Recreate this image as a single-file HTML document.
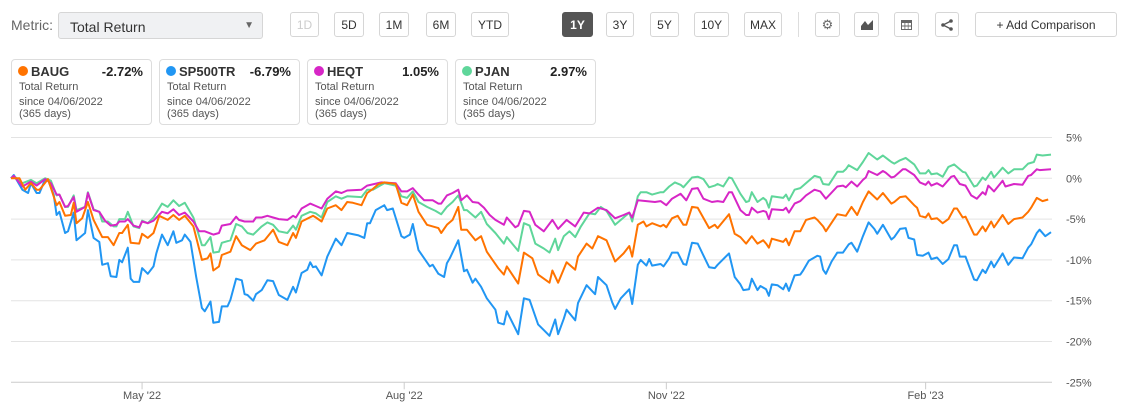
<!DOCTYPE html>
<html><head><meta charset="utf-8">
<style>
*{box-sizing:border-box;margin:0;padding:0}
body{width:1125px;height:412px;background:#fff;font-family:"Liberation Sans",sans-serif;color:#333;position:relative;overflow:hidden}
.abs{position:absolute}
.btn{position:absolute;top:12px;height:25px;border:1px solid #d6d6d6;border-radius:3px;background:#fff;font-size:12px;color:#333;display:flex;align-items:center;justify-content:center}
.card{position:absolute;top:59px;width:141px;height:66px;border:1px solid #ddd;border-radius:4px;font-size:11px;color:#555}
.card .dot{position:absolute;left:6px;top:6px;width:10px;height:10px;border-radius:50%}
.card .tk{position:absolute;left:19px;top:4px;font-weight:bold;font-size:13px;color:#333}
.card .pc{position:absolute;right:8px;top:4px;font-weight:bold;font-size:13px;color:#222}
.card .l1{position:absolute;left:7px;top:21px}
.card .l2{position:absolute;left:7px;top:36px}
.card .l3{position:absolute;left:7px;top:48px}
</style></head><body>
<div class="abs" style="left:11px;top:17px;font-size:14px;color:#666">Metric:</div>
<div class="abs" style="left:58px;top:12px;width:205px;height:27px;background:#f0f1f3;border:1px solid #d6d6d6;border-radius:3px;font-size:14px;padding:6px 0 0 11px;color:#333">Total Return<span style="position:absolute;right:8px;top:7px;font-size:10px;color:#666">▼</span></div>
<div class="btn" style="left:290px;width:29px;color:#ccc">1D</div>
<div class="btn" style="left:334px;width:30px">5D</div>
<div class="btn" style="left:379px;width:30px">1M</div>
<div class="btn" style="left:426px;width:30px">6M</div>
<div class="btn" style="left:471px;width:38px">YTD</div>
<div class="btn" style="left:562px;width:31px;background:#555;border-color:#555;color:#fff;font-weight:bold">1Y</div>
<div class="btn" style="left:606px;width:28px">3Y</div>
<div class="btn" style="left:650px;width:29px">5Y</div>
<div class="btn" style="left:694px;width:35px">10Y</div>
<div class="btn" style="left:744px;width:38px">MAX</div>
<div class="abs" style="left:798px;top:12px;width:1px;height:25px;background:#ddd"></div>
<div class="btn" style="left:815px;width:25px;font-size:13px;color:#666">⚙</div>
<div class="btn" style="left:854px;width:25px"><svg width="12" height="10"><path d="M0 10 L0 6 L4 1 L7 5 L12 0 L12 10Z" fill="#555"/></svg></div>
<div class="btn" style="left:894px;width:25px"><svg width="11" height="10"><rect x="0" y="0" width="11" height="10" fill="#666"/><g fill="#fff"><rect x="1" y="3" width="2.5" height="2.5"/><rect x="4.3" y="3" width="2.5" height="2.5"/><rect x="7.5" y="3" width="2.5" height="2.5"/><rect x="1" y="6.5" width="2.5" height="2.5"/><rect x="4.3" y="6.5" width="2.5" height="2.5"/><rect x="7.5" y="6.5" width="2.5" height="2.5"/></g></svg></div>
<div class="btn" style="left:935px;width:24px"><svg width="12" height="12"><path d="M10 2 L2 6 L10 10" stroke="#555" stroke-width="1.3" fill="none"/><circle cx="10" cy="2" r="1.8" fill="#555"/><circle cx="2" cy="6" r="1.8" fill="#555"/><circle cx="10" cy="10" r="1.8" fill="#555"/></svg></div>
<div class="btn" style="left:975px;width:142px">+ Add Comparison</div>

<div class="card" style="left:11px"><span class="dot" style="background:#ff7300"></span><span class="tk">BAUG</span><span class="pc">-2.72%</span><span class="l1">Total Return</span><span class="l2">since 04/06/2022</span><span class="l3">(365 days)</span></div>
<div class="card" style="left:159px"><span class="dot" style="background:#2196f3"></span><span class="tk">SP500TR</span><span class="pc">-6.79%</span><span class="l1">Total Return</span><span class="l2">since 04/06/2022</span><span class="l3">(365 days)</span></div>
<div class="card" style="left:307px"><span class="dot" style="background:#d726c6"></span><span class="tk">HEQT</span><span class="pc">1.05%</span><span class="l1">Total Return</span><span class="l2">since 04/06/2022</span><span class="l3">(365 days)</span></div>
<div class="card" style="left:455px"><span class="dot" style="background:#5fd69a"></span><span class="tk">PJAN</span><span class="pc">2.97%</span><span class="l1">Total Return</span><span class="l2">since 04/06/2022</span><span class="l3">(365 days)</span></div>

<svg id="chart" class="abs" style="left:0;top:0" width="1125" height="412"></svg>
<script>
const yTicks=[5,0,-5,-10,-15,-20,-25];
const xTickDays=[46,138,230,321];
const xTickLabels=["May '22","Aug '22","Nov '22","Feb '23"];
const baugDays=[0,3,5,7,9,10,13,16,17,19,21,22,23,25,27,29,32,34,36,38,39,41,42,45,46,48,50,52,55,57,59,61,64,67,69,70,71,73,74,77,79,81,84,86,89,92,94,97,99,100,102,106,107,109,111,114,116,118,120,123,125,127,129,131,135,137,139,141,143,146,150,151,153,155,157,158,160,163,165,167,171,173,174,178,180,183,185,189,190,192,195,198,199,202,204,206,209,212,215,217,218,220,222,223,225,228,229,230,232,234,236,237,239,241,245,247,248,252,254,256,258,260,262,264,265,266,267,271,272,273,275,277,279,282,283,285,286,290,293,295,297,299,301,304,306,309,310,312,314,317,318,319,321,322,323,325,327,329,331,332,334,335,338,339,341,342,344,345,348,350,352,355,357,358,360,362,364,365];
const baugVals=[0,0,-1.4,-0.6,-1.4,-1.4,-0.1,-3.3,-2.9,-4.6,-4.5,-3.0,-5.5,-4.9,-2.9,-5.1,-7.2,-7.2,-8.2,-6.7,-6.7,-5.7,-7.9,-8.0,-6.8,-7.3,-6.7,-4.6,-5.1,-4.5,-5.1,-4.6,-5.9,-10,-9.8,-9.2,-11.3,-10.8,-9.4,-9.0,-7.1,-8.2,-8.8,-8.0,-7.6,-6.3,-7.8,-8.2,-6.7,-7.3,-5.3,-4.6,-4.8,-5.3,-3.7,-3.3,-3.9,-2.9,-3.0,-3.3,-1.8,-1.3,-0.7,-0.5,-0.7,-3.0,-3.3,-2.0,-4.1,-5.7,-6.1,-6.7,-5.7,-5.1,-3.5,-6.3,-6.3,-7.6,-7.1,-9.0,-11.0,-11.8,-10.8,-12.9,-9.1,-9.8,-11.8,-12.8,-11.3,-12.8,-10.3,-11.2,-9.6,-8.0,-8.6,-7.1,-7.6,-10.2,-9.2,-8.3,-9.6,-5.7,-5.3,-5.9,-5.5,-5.9,-5.7,-6.0,-4.9,-4.6,-5.7,-5.7,-3.5,-3.6,-6.1,-5.7,-6.1,-4.4,-6.8,-7.2,-8.0,-7.1,-8.0,-7.6,-8.0,-8.5,-7.4,-7.8,-7.4,-8.2,-6.5,-6.5,-5.1,-4.8,-5.1,-5.9,-6.5,-4.4,-4.6,-3.5,-4.5,-2.9,-1.6,-2.6,-1.8,-3.1,-2.9,-2.3,-2.2,-3.3,-3.6,-4.6,-4.8,-4.3,-5.0,-4.9,-5.5,-5.0,-3.7,-3.7,-4.8,-4.7,-6.9,-6.9,-5.9,-6.5,-5.3,-6.0,-4.5,-5.6,-5.0,-4.8,-4.1,-3.6,-2.4,-2.8,-2.6];
const spDays=[0,1,4,6,7,9,10,12,13,15,16,17,19,20,22,23,26,27,29,31,32,34,35,37,38,39,41,42,43,45,46,48,50,51,53,55,57,58,60,61,63,65,67,68,70,71,73,74,76,77,79,81,82,83,85,86,88,90,92,94,97,99,100,102,104,105,106,107,109,111,114,116,118,122,124,125,126,128,130,131,132,134,137,138,140,141,143,145,147,148,150,152,153,154,157,159,160,162,163,165,167,170,171,173,174,178,180,182,185,187,189,191,192,194,195,198,199,202,205,206,209,211,212,214,217,218,220,221,223,224,225,228,229,231,232,234,236,237,239,241,245,247,248,252,254,256,257,259,260,262,263,265,266,267,269,271,272,273,275,277,278,280,283,284,285,286,288,290,292,294,295,297,299,301,303,304,306,309,310,312,314,315,317,318,320,322,323,325,327,329,331,332,333,335,338,339,341,342,344,345,348,350,352,355,357,358,360,361,363,365];
const spVals=[0,0.4,-1.4,-1.8,-0.6,-1.8,-1.8,-0.1,-0.2,-2.0,-4.5,-4.1,-6.7,-6.5,-4.2,-7.6,-6.7,-3.9,-7.3,-7.8,-10.6,-10.4,-12.0,-12.1,-10,-10.3,-8.5,-12.3,-12.7,-12.7,-11.0,-11.7,-10.8,-9.2,-6.9,-8.2,-6.5,-7.9,-7.6,-6.9,-7.8,-12.1,-15.9,-16.3,-15.1,-17.7,-17.6,-15.7,-15.7,-14.9,-12.3,-12.5,-14.2,-14.3,-15.0,-14.2,-13.7,-12.5,-12.6,-14.3,-14.9,-13.3,-14.0,-11.6,-11.2,-10.3,-10.9,-10.8,-11.9,-9.6,-7.4,-8.2,-6.7,-7.0,-7.3,-5.5,-5.5,-3.9,-3.5,-3.3,-3.9,-3.7,-7.1,-7.3,-6.9,-5.6,-8.8,-9.8,-10.8,-10.6,-11.7,-12.1,-10.4,-9.8,-7.6,-11.4,-11.2,-12.8,-12.3,-13.3,-14.7,-16.1,-17.7,-17.9,-16.3,-19.1,-14.7,-14.9,-17.9,-18.6,-19.3,-17.3,-19.1,-17.2,-16.1,-17.4,-15.3,-13.1,-14.2,-12.1,-13.1,-15.2,-16.0,-14.7,-13.6,-15.4,-10.6,-10.0,-10.7,-9.9,-10.7,-10.5,-10.8,-9.8,-9.1,-9.1,-10.5,-10.6,-7.9,-8.0,-10.9,-11.0,-10.6,-9.2,-12.1,-13.0,-13.7,-13.6,-12.3,-13.7,-13.2,-13.6,-14.4,-13.0,-13.1,-13.6,-12.9,-13.8,-11.9,-11.8,-11.3,-10.1,-9.5,-9.6,-11.2,-11.7,-10.2,-9.1,-9.1,-8.1,-7.9,-9.0,-7.1,-5.4,-6.2,-6.8,-5.7,-7.5,-7.2,-6.2,-6.1,-7.3,-7.5,-9.4,-9.5,-9.1,-9.9,-9.7,-10.5,-9.9,-8.2,-8.2,-9.6,-9.6,-12.4,-12.5,-11.2,-11.6,-10.2,-10.9,-9.2,-10.6,-9.7,-9.8,-8.5,-8.1,-6.7,-6.3,-7.1,-6.6];
const heqtDays=[0,1,4,7,9,12,14,16,17,19,20,22,23,26,27,29,31,33,35,37,38,40,41,43,45,46,48,50,53,55,57,59,61,64,66,68,71,73,74,77,79,80,82,85,86,88,90,92,94,97,99,100,102,105,107,109,111,114,116,118,123,125,130,135,137,139,141,143,145,148,150,151,153,155,157,158,160,162,164,166,168,170,173,174,177,178,180,182,184,187,190,192,195,198,201,203,206,209,212,215,217,218,220,223,226,228,230,232,235,237,239,241,243,246,248,250,252,253,256,258,259,260,262,264,265,266,267,271,272,273,275,277,279,282,284,286,290,292,293,295,297,299,300,301,304,306,307,309,310,313,314,317,319,321,322,323,325,327,330,331,333,335,337,339,341,342,343,345,348,349,352,355,357,358,360,361,365];
const heqtVals=[0,0.3,-1.0,-0.4,-0.9,-0.1,-0.6,-2.0,-2.0,-3.5,-3.4,-2.3,-4.1,-3.5,-1.8,-3.9,-4.1,-5.2,-5.8,-5.7,-5.3,-5.3,-5.0,-5.8,-6.0,-5.3,-5.5,-5.2,-4.1,-4.3,-3.8,-4.5,-4.2,-5.3,-6.5,-6.5,-6.9,-6.7,-5.8,-5.6,-4.7,-5.1,-5.3,-5.3,-4.8,-4.8,-4.6,-4.8,-5.0,-5.1,-4.6,-4.8,-3.7,-3.1,-3.4,-3.7,-2.5,-1.6,-1.8,-1.5,-1.4,-0.9,-0.5,-0.6,-1.6,-1.6,-1.2,-2.0,-2.7,-2.7,-3.1,-3.1,-2.1,-1.8,-1.4,-2.7,-2.1,-2.9,-3.0,-3.6,-4.5,-5.1,-5.7,-4.8,-6.0,-5.8,-4.0,-4.1,-5.7,-6.5,-5.1,-6.2,-5.1,-5.9,-4.2,-4.3,-3.6,-3.9,-4.9,-4.5,-4.2,-4.8,-2.7,-2.8,-2.9,-2.8,-3.3,-2.5,-1.9,-2.7,-1.3,-1.2,-2.5,-2.9,-2.8,-2.9,-1.7,-1.7,-3.9,-4.5,-4.5,-3.6,-4.2,-4.0,-4.1,-5.0,-3.8,-3.9,-3.6,-4.2,-3.1,-2.8,-2.1,-1.4,-1.6,-2.5,-1.0,-0.9,-1.1,-0.4,-1.0,-0.2,0.1,0.9,0.4,0.9,0.7,0.1,0.2,1.1,1.1,0.4,-0.5,-0.8,-0.4,-0.9,-0.6,-1.0,0.2,0.3,-0.7,-0.9,-2.1,-2.5,-1.7,-2.0,-0.9,-1.6,-0.3,-1.0,-0.7,-0.8,0.3,0.4,1.1,1.0,1.1];
const pjanDays=[0,1,4,7,9,12,14,16,17,19,20,22,23,26,27,29,31,32,34,36,37,38,40,41,43,45,46,48,50,53,55,57,59,61,64,67,68,70,71,73,74,77,79,81,83,85,88,90,92,94,97,99,100,102,105,107,109,111,114,116,118,123,125,127,131,135,137,139,141,143,146,149,151,153,155,157,159,160,163,165,167,170,173,174,178,180,182,184,187,189,191,192,194,196,198,200,203,205,207,209,212,215,217,218,220,221,223,225,228,229,231,233,235,236,239,241,243,245,247,248,250,252,253,256,258,259,260,262,264,265,266,267,271,272,273,275,277,280,282,284,285,287,290,292,293,294,297,299,301,304,306,309,310,312,314,317,319,321,322,323,325,327,329,331,334,335,338,339,341,342,344,345,348,350,352,355,357,359,360,362,365];
const pjanVals=[0,0.3,-0.6,-0.2,-0.6,0,-0.3,-2.1,-2.0,-3.5,-3.5,-2.1,-3.9,-3.5,-1.7,-3.8,-4.1,-5.3,-5.3,-5.9,-5.9,-5.0,-5.0,-4.1,-5.9,-6.1,-5.2,-5.5,-4.8,-3.1,-3.5,-2.7,-3.4,-3.0,-4.8,-8.2,-8.2,-7.2,-9.1,-9.0,-7.9,-7.6,-5.6,-5.9,-6.7,-6.9,-5.9,-5.4,-5.7,-6.5,-6.7,-5.8,-6.3,-4.6,-4.1,-4.3,-4.8,-2.9,-2.2,-2.5,-2.2,-2.3,-1.4,-1.4,-0.6,-0.9,-2.2,-2.4,-1.6,-2.9,-3.5,-4.0,-4.4,-3.5,-2.9,-2.1,-3.9,-3.9,-4.8,-4.1,-5.6,-6.7,-8.0,-7.2,-8.9,-5.5,-5.8,-8.0,-8.6,-9.1,-7.4,-8.8,-7.1,-6.5,-7.2,-5.9,-4.3,-4.4,-3.5,-4.0,-5.7,-4.8,-4.2,-5.3,-2.2,-1.7,-1.7,-2.0,-1.7,-1.7,-1.0,-0.5,-0.8,-1.1,0.1,0.2,-0.1,-1.1,-0.9,-0.7,-1.0,0.1,0,-1.9,-2.9,-2.8,-1.7,-2.9,-2.4,-2.7,-3.6,-2.2,-2.4,-2.0,-2.7,-1.4,-1.2,-0.3,0.3,0.1,-0.7,-0.8,0.8,0.8,1.1,1.6,1.0,2.0,3.1,2.3,2.8,2.0,1.8,2.2,2.5,1.7,0.6,0.6,1.0,0.5,0.6,0.2,1.4,1.7,0.8,0.7,-1.0,-0.9,0.1,-0.2,0.8,0.1,1.3,0.6,1.1,1.1,1.8,2.0,2.9,2.8,2.9];

const NS='http://www.w3.org/2000/svg';
const svg=document.getElementById('chart');
const X0=11,X1=1051,Y0=178.3,PX=8.16;
const xs=d=>X0+(d/365)*(X1-X0);
const ys=v=>Y0-v*PX;
function mk(tag,attrs){const e=document.createElementNS(NS,tag);for(const k in attrs)e.setAttribute(k,attrs[k]);svg.appendChild(e);return e;}
yTicks.forEach(t=>{
  const g=mk('line',{x1:X0,x2:X1+1,y1:ys(t),y2:ys(t),stroke:t===-25?'#ccc':'#e3e3e3','stroke-width':1});
  
  
  const l=mk('text',{x:1066,y:ys(t)+4,'font-size':11,fill:'#555','font-family':'Liberation Sans, sans-serif'});
  l.textContent=t+'%';
  
  
});
xTickDays.forEach((d,i)=>{
  const tk=mk('line',{x1:xs(d),x2:xs(d),y1:ys(-25),y2:ys(-25)+7,stroke:'#ccc','stroke-width':1});
  
  
  const l=mk('text',{x:xs(d),y:399,'font-size':11,fill:'#555','text-anchor':'middle','font-family':'Liberation Sans, sans-serif'});
  l.textContent=xTickLabels[i];
  
  
});
function line(days,vals,color,name){
  const d=days.map((t,i)=>(i?'L':'M')+xs(t).toFixed(1)+' '+ys(vals[i]).toFixed(1)).join(' ');
  const p=mk('path',{d:d,fill:'none',stroke:color,'stroke-width':2,'stroke-linejoin':'round'});
  
  
}
line(spDays,spVals,'#2196f3','sp500tr-line');
line(pjanDays,pjanVals,'#5fd69a','pjan-line');
line(heqtDays,heqtVals,'#d726c6','heqt-line');
line(baugDays,baugVals,'#ff7300','baug-line');
</script>
</body></html>
